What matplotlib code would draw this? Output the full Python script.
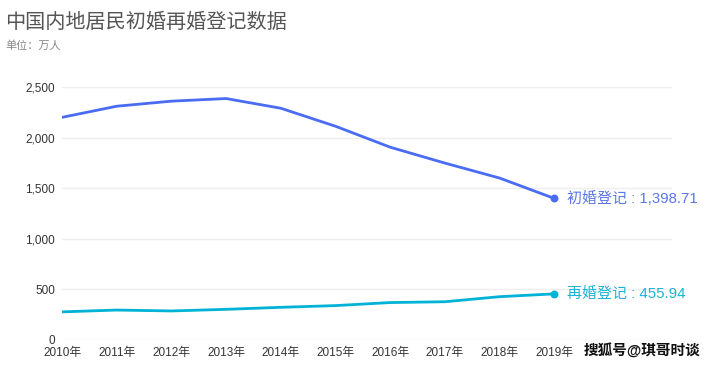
import matplotlib
matplotlib.use("Agg")
import matplotlib.pyplot as plt
import numpy as np

plt.rcParams['font.family'] = ['Liberation Sans', 'Noto Sans CJK SC', 'DejaVu Sans']

years = ["2010年", "2011年", "2012年", "2013年", "2014年",
         "2015年", "2016年", "2017年", "2018年", "2019年"]
first_marriage = [2200, 2310, 2360, 2386, 2290, 2112, 1905, 1748, 1600, 1398.71]
remarriage = [278, 296, 287, 303, 323, 340, 370, 378, 428, 455.94]

blue = "#4a6cf2"
cyan = "#00b2d6"

fig = plt.figure(figsize=(7.14, 3.67), dpi=100)
ax = fig.add_axes([62 / 714, 1 - 340 / 367, (672 - 62) / 714, (340 - 87) / 367])

x = np.arange(len(years))
ax.plot(x, first_marriage, color=blue, lw=2.0, solid_capstyle="round")
ax.plot(x, remarriage, color=cyan, lw=2.0, solid_capstyle="round")
ax.scatter([x[-1]], [first_marriage[-1]], color=blue, s=22, zorder=3)
ax.scatter([x[-1]], [remarriage[-1]], color=cyan, s=22, zorder=3)

ax.annotate(f"初婚登记 : {first_marriage[-1]:,.2f}", (x[-1], first_marriage[-1]),
            xytext=(9, 0), textcoords="offset points", va="center",
            color="#5a78e6", fontsize=10.8)
ax.annotate(f"再婚登记 : {remarriage[-1]:,.2f}", (x[-1], remarriage[-1]),
            xytext=(9, 0), textcoords="offset points", va="center",
            color="#1ab4d4", fontsize=10.8)

ax.set_ylim(0, 2500)
ax.set_xlim(0, 11.15)
ax.set_yticks([0, 500, 1000, 1500, 2000, 2500])
ax.set_yticklabels(["0", "500", "1,000", "1,500", "2,000", "2,500"])
ax.set_xticks(x)
ax.set_xticklabels(years)
ax.grid(axis="y", color="#eeeeee", lw=1)
ax.set_axisbelow(True)
for s in ax.spines.values():
    s.set_visible(False)
ax.tick_params(axis="both", length=0, labelsize=8.5, colors="#333333")
ax.tick_params(axis="x", pad=5)
ax.tick_params(axis="y", pad=5)

fig.text(5 / 714, 1 - 22 / 367, "中国内地居民初婚再婚登记数据", fontsize=14.5,
         color="#555555", va="center", ha="left")
fig.text(5 / 714, 1 - 46 / 367, "单位：万人", fontsize=8, color="#888888",
         va="center", ha="left")
fig.text(700 / 714, 1 - 350 / 367, "搜狐号@琪哥时谈", fontsize=10.5, color="#111111",
         va="center", ha="right", fontweight="bold")

fig.savefig("out.png", dpi=100)
